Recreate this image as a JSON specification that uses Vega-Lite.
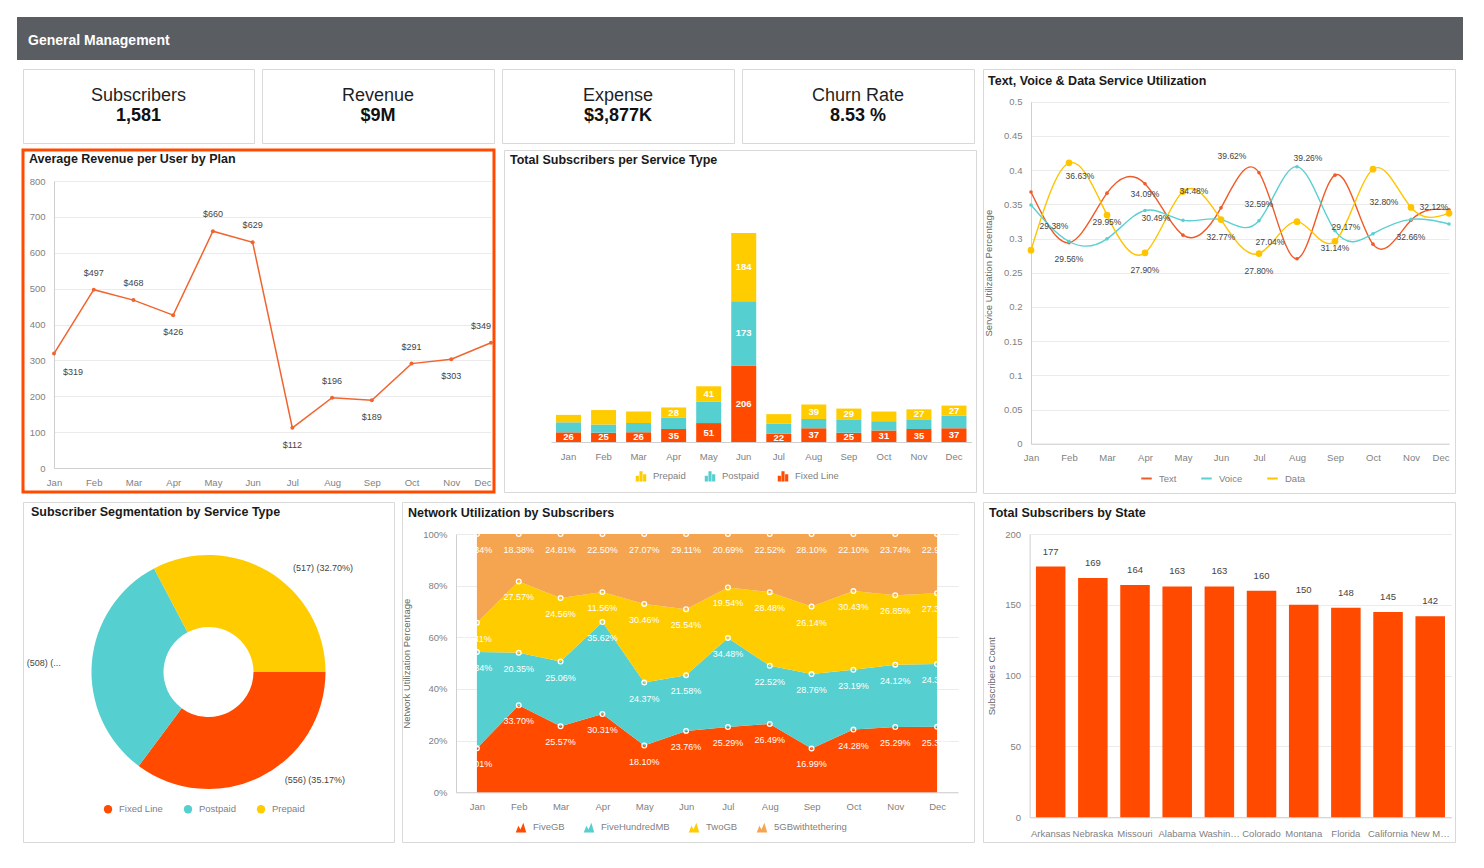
{
  "$schema": "https://vega.github.io/schema/vega-lite/v6.json",
  "padding": {"left": 17, "top": 17, "right": 0, "bottom": 0},
  "background": "white",
  "spacing": 8,
  "resolve": {"scale": {"color": "independent", "size": "independent"}, "legend": {"color": "independent", "size": "independent"}},
  "datasets": {
    "planOrder": [
      {"plan": "FiveGB", "rank": 1},
      {"plan": "FiveHundredMB", "rank": 2},
      {"plan": "TwoGB", "rank": 3},
      {"plan": "5GBwithtethering", "rank": 4}
    ]
  },
  "config": {
    "font": "Liberation Sans",
    "view": {"stroke": "#d9d9d9", "strokeWidth": 1, "fill": "white"},
    "title": {"anchor": "start", "frame": "group", "fontSize": 12.5, "fontWeight": "bold", "color": "#1a1a1a", "font": "Liberation Sans", "dx": 6},
    "axis": {"ticks": false, "domainColor": "#cfcfcf", "gridColor": "#ebebeb", "labelColor": "#7f7f7f", "labelFontSize": 9.5, "labelPadding": 9, "titleFontSize": 9.5, "titleFontWeight": "normal", "titleColor": "#666666", "labelFont": "Liberation Sans", "titleFont": "Liberation Sans"},
    "axisX": {"grid": false, "labelAngle": 0},
    "axisY": {"grid": true},
    "legend": {"orient": "none", "direction": "horizontal", "labelFontSize": 9.5, "labelColor": "#7f7f7f", "labelFont": "Liberation Sans", "columnPadding": 18, "labelOffset": 6},
    "text": {"font": "Liberation Sans"}
  },
  "vconcat": [
    {
      "width": 1446, "height": 43,
      "view": {"fill": "#5a5d62", "stroke": null},
      "title": {"text": "General Management", "color": "white", "fontSize": 14, "offset": -31, "dx": 11},
      "data": {"values": [{"t": ""}]},
      "mark": {"type": "text"},
      "encoding": {"text": {"field": "t"}}
    },
    {
      "spacing": 3,
      "resolve": {"scale": {"color": "independent", "size": "independent"}, "legend": {"color": "independent", "size": "independent"}},
      "hconcat": [
        {
          "width": 1, "height": 10,
          "view": {"fill": null, "stroke": null},
          "data": {"values": [{"t": ""}]},
          "mark": {"type": "text"},
          "encoding": {"text": {"field": "t"}}
        },
        {
          "spacing": 7,
          "resolve": {"scale": {"color": "independent", "size": "independent"}, "legend": {"color": "independent", "size": "independent"}},
          "vconcat": [
            {
              "spacing": 5,
              "resolve": {"scale": {"color": "independent", "size": "independent"}, "legend": {"color": "independent", "size": "independent"}},
              "hconcat": [
                {
                  "spacing": 4,
                  "resolve": {"scale": {"color": "independent"}, "legend": {"color": "independent"}},
                  "vconcat": [
                    {
                      "spacing": 8,
                      "bounds": "flush",
                      "hconcat": [
                        {
                          "width": 231, "height": 74,
                          "view": {"stroke": "#d9d9d9", "fill": "white"},
                          "data": {"values": [{"kpi": "Subscribers", "value": "1,581"}]},
                          "layer": [
                            {"mark": {"type": "text", "dy": -10, "fontSize": 18, "color": "#1f1f1f"}, "encoding": {"text": {"field": "kpi"}}},
                            {"mark": {"type": "text", "dy": 10, "fontSize": 18, "fontWeight": "bold", "color": "#111111"}, "encoding": {"text": {"field": "value"}}}
                          ]
                        },
                        {
                          "width": 232, "height": 74,
                          "view": {"stroke": "#d9d9d9", "fill": "white"},
                          "data": {"values": [{"kpi": "Revenue", "value": "$9M"}]},
                          "layer": [
                            {"mark": {"type": "text", "dy": -10, "fontSize": 18, "color": "#1f1f1f"}, "encoding": {"text": {"field": "kpi"}}},
                            {"mark": {"type": "text", "dy": 10, "fontSize": 18, "fontWeight": "bold", "color": "#111111"}, "encoding": {"text": {"field": "value"}}}
                          ]
                        },
                        {
                          "width": 232, "height": 74,
                          "view": {"stroke": "#d9d9d9", "fill": "white"},
                          "data": {"values": [{"kpi": "Expense", "value": "$3,877K"}]},
                          "layer": [
                            {"mark": {"type": "text", "dy": -10, "fontSize": 18, "color": "#1f1f1f"}, "encoding": {"text": {"field": "kpi"}}},
                            {"mark": {"type": "text", "dy": 10, "fontSize": 18, "fontWeight": "bold", "color": "#111111"}, "encoding": {"text": {"field": "value"}}}
                          ]
                        },
                        {
                          "width": 232, "height": 74,
                          "view": {"stroke": "#d9d9d9", "fill": "white"},
                          "data": {"values": [{"kpi": "Churn Rate", "value": "8.53 %"}]},
                          "layer": [
                            {"mark": {"type": "text", "dy": -10, "fontSize": 18, "color": "#1f1f1f"}, "encoding": {"text": {"field": "kpi"}}},
                            {"mark": {"type": "text", "dy": 10, "fontSize": 18, "fontWeight": "bold", "color": "#111111"}, "encoding": {"text": {"field": "value"}}}
                          ]
                        }
                      ]
                    },
                    {
                      "spacing": 10,
                      "bounds": "flush",
                      "resolve": {"scale": {"color": "independent"}, "legend": {"color": "independent"}},
                      "hconcat": [
                        {
                          "width": 471, "height": 342,
                          "view": {"stroke": "#FF4A00", "strokeWidth": 3},
                          "title": {"text": "Average Revenue per User by Plan", "offset": -15.75},
                          "data": {"values": [
                            {"month": "Jan", "arpu": 319}, {"month": "Feb", "arpu": 497}, {"month": "Mar", "arpu": 468},
                            {"month": "Apr", "arpu": 426}, {"month": "May", "arpu": 660}, {"month": "Jun", "arpu": 629},
                            {"month": "Jul", "arpu": 112}, {"month": "Aug", "arpu": 196}, {"month": "Sep", "arpu": 189},
                            {"month": "Oct", "arpu": 291}, {"month": "Nov", "arpu": 303}, {"month": "Dec", "arpu": 349}
                          ]},
                          "encoding": {
                            "x": {"field": "month", "type": "ordinal", "scale": {"type": "point", "domain": ["Jan","Feb","Mar","Apr","May","Jun","Jul","Aug","Sep","Oct","Nov","Dec"], "range": [31, 468], "padding": 0}, "axis": {"offset": -24, "title": null, "labelAlign": {"condition": {"test": "datum.value == 'Dec'", "value": "right"}, "value": "center"}}},
                            "y": {"field": "arpu", "type": "quantitative", "scale": {"domain": [0, 800], "range": [318, 31], "nice": false}, "axis": {"offset": -31, "tickCount": 8, "title": null}}
                          },
                          "layer": [
                            {"mark": {"type": "line", "color": "#F1642F", "strokeWidth": 1.5}},
                            {"mark": {"type": "point", "filled": true, "color": "#F1642F", "size": 16, "opacity": 1}},
                            {"transform": [{"filter": {"field": "month", "oneOf": ["Feb", "Mar", "May", "Jun", "Aug", "Oct"]}}], "mark": {"type": "text", "dy": -17, "fontSize": 9, "color": "#444444"}, "encoding": {"text": {"field": "arpu", "format": "$.0f"}}},
                            {"transform": [{"filter": {"field": "month", "oneOf": ["Apr", "Jul", "Sep", "Nov"]}}], "mark": {"type": "text", "dy": 17, "fontSize": 9, "color": "#444444"}, "encoding": {"text": {"field": "arpu", "format": "$.0f"}}},
                            {"transform": [{"filter": {"field": "month", "equal": "Jan"}}], "mark": {"type": "text", "dy": 18, "dx": 9, "align": "left", "fontSize": 9, "color": "#444444"}, "encoding": {"text": {"field": "arpu", "format": "$.0f"}}},
                            {"transform": [{"filter": {"field": "month", "equal": "Dec"}}], "mark": {"type": "text", "dy": -17, "align": "right", "fontSize": 9, "color": "#444444"}, "encoding": {"text": {"field": "arpu", "format": "$.0f"}}}
                          ]
                        },
                        {
                          "width": 472, "height": 342,
                          "title": {"text": "Total Subscribers per Service Type", "offset": -16.5},
                          "data": {"values": [
                            {"month": "Jan", "type": "Fixed Line", "subs": 26}, {"month": "Jan", "type": "Postpaid", "subs": 27}, {"month": "Jan", "type": "Prepaid", "subs": 20},
                            {"month": "Feb", "type": "Fixed Line", "subs": 25}, {"month": "Feb", "type": "Postpaid", "subs": 22}, {"month": "Feb", "type": "Prepaid", "subs": 39},
                            {"month": "Mar", "type": "Fixed Line", "subs": 26}, {"month": "Mar", "type": "Postpaid", "subs": 25}, {"month": "Mar", "type": "Prepaid", "subs": 31},
                            {"month": "Apr", "type": "Fixed Line", "subs": 35}, {"month": "Apr", "type": "Postpaid", "subs": 30}, {"month": "Apr", "type": "Prepaid", "subs": 28},
                            {"month": "May", "type": "Fixed Line", "subs": 51}, {"month": "May", "type": "Postpaid", "subs": 58}, {"month": "May", "type": "Prepaid", "subs": 41},
                            {"month": "Jun", "type": "Fixed Line", "subs": 206}, {"month": "Jun", "type": "Postpaid", "subs": 173}, {"month": "Jun", "type": "Prepaid", "subs": 184},
                            {"month": "Jul", "type": "Fixed Line", "subs": 22}, {"month": "Jul", "type": "Postpaid", "subs": 27}, {"month": "Jul", "type": "Prepaid", "subs": 26},
                            {"month": "Aug", "type": "Fixed Line", "subs": 37}, {"month": "Aug", "type": "Postpaid", "subs": 25}, {"month": "Aug", "type": "Prepaid", "subs": 39},
                            {"month": "Sep", "type": "Fixed Line", "subs": 25}, {"month": "Sep", "type": "Postpaid", "subs": 36}, {"month": "Sep", "type": "Prepaid", "subs": 29},
                            {"month": "Oct", "type": "Fixed Line", "subs": 31}, {"month": "Oct", "type": "Postpaid", "subs": 25}, {"month": "Oct", "type": "Prepaid", "subs": 26},
                            {"month": "Nov", "type": "Fixed Line", "subs": 35}, {"month": "Nov", "type": "Postpaid", "subs": 26}, {"month": "Nov", "type": "Prepaid", "subs": 27},
                            {"month": "Dec", "type": "Fixed Line", "subs": 37}, {"month": "Dec", "type": "Postpaid", "subs": 34}, {"month": "Dec", "type": "Prepaid", "subs": 27}
                          ]},
                          "encoding": {
                            "x": {"field": "month", "type": "nominal", "scale": {"domain": ["Jan","Feb","Mar","Apr","May","Jun","Jul","Aug","Sep","Oct","Nov","Dec"], "range": [47, 467.5], "paddingInner": 0.287, "paddingOuter": 0.1435}, "axis": {"offset": -50, "title": null}}
                          },
                          "layer": [
                            {
                              "mark": {"type": "bar"},
                              "encoding": {
                                "y": {"field": "subs", "type": "quantitative", "stack": "zero", "scale": {"domain": [0, 700], "range": [292, 32], "nice": false}, "axis": {"offset": -47, "tickCount": 7, "title": "Subscribers Count", "titlePadding": 8}},
                                "color": {"field": "type", "type": "nominal", "scale": {"domain": ["Prepaid", "Postpaid", "Fixed Line"], "range": ["#FFCC00", "#55CFCF", "#FF4A00"]}, "legend": {"title": null, "legendX": 131, "legendY": 320, "symbolType": "M-1,1L-1,-0.1L-0.4,-0.1L-0.4,1Z M-0.3,1L-0.3,-1L0.3,-1L0.3,1Z M0.4,1L0.4,-0.4L1,-0.4L1,1Z", "symbolSize": 110}},
                                "order": {"field": "type", "type": "ordinal", "sort": "ascending"}
                              }
                            },
                            {
                              "transform": [
                                {"stack": "subs", "groupby": ["month"], "sort": [{"field": "type", "order": "ascending"}], "as": ["s0", "s1"]},
                                {"fold": ["s0", "s1"], "as": ["edge", "pos"]},
                                {"aggregate": [{"op": "mean", "field": "pos", "as": "mid"}, {"op": "max", "field": "subs", "as": "subs"}], "groupby": ["month", "type"]},
                                {"filter": "datum.type == 'Fixed Line' || (datum.type == 'Postpaid' && datum.month == 'Jun') || (datum.type == 'Prepaid' && indexof(['Apr','May','Jun','Aug','Sep','Nov','Dec'], datum.month) >= 0)"}
                              ],
                              "mark": {"type": "text", "color": "white", "fontSize": 9.5, "fontWeight": "bold"},
                              "encoding": {
                                "y": {"field": "mid", "type": "quantitative", "stack": null, "axis": null},
                                "text": {"field": "subs"}
                              }
                            }
                          ]
                        }
                      ]
                    }
                  ]
                },
                {
                  "width": 472, "height": 424,
                  "title": {"text": "Text, Voice & Data Service Utilization", "offset": -18.75, "dx": 5},
                  "data": {"values": [
                    {"month": "Jan", "series": "Text", "val": 0.368}, {"month": "Feb", "series": "Text", "val": 0.2938}, {"month": "Mar", "series": "Text", "val": 0.3663},
                    {"month": "Apr", "series": "Text", "val": 0.380}, {"month": "May", "series": "Text", "val": 0.3049}, {"month": "Jun", "series": "Text", "val": 0.3448},
                    {"month": "Jul", "series": "Text", "val": 0.3962}, {"month": "Aug", "series": "Text", "val": 0.2704}, {"month": "Sep", "series": "Text", "val": 0.3926},
                    {"month": "Oct", "series": "Text", "val": 0.2917}, {"month": "Nov", "series": "Text", "val": 0.3266}, {"month": "Dec", "series": "Text", "val": 0.342},
                    {"month": "Jan", "series": "Voice", "val": 0.349}, {"month": "Feb", "series": "Voice", "val": 0.2956}, {"month": "Mar", "series": "Voice", "val": 0.2995},
                    {"month": "Apr", "series": "Voice", "val": 0.3409}, {"month": "May", "series": "Voice", "val": 0.3265}, {"month": "Jun", "series": "Voice", "val": 0.3275},
                    {"month": "Jul", "series": "Voice", "val": 0.3259}, {"month": "Aug", "series": "Voice", "val": 0.405}, {"month": "Sep", "series": "Voice", "val": 0.3114},
                    {"month": "Oct", "series": "Voice", "val": 0.307}, {"month": "Nov", "series": "Voice", "val": 0.328}, {"month": "Dec", "series": "Voice", "val": 0.3212},
                    {"month": "Jan", "series": "Data", "val": 0.283}, {"month": "Feb", "series": "Data", "val": 0.4106}, {"month": "Mar", "series": "Data", "val": 0.3342},
                    {"month": "Apr", "series": "Data", "val": 0.279}, {"month": "May", "series": "Data", "val": 0.3686}, {"month": "Jun", "series": "Data", "val": 0.3277},
                    {"month": "Jul", "series": "Data", "val": 0.278}, {"month": "Aug", "series": "Data", "val": 0.3246}, {"month": "Sep", "series": "Data", "val": 0.296},
                    {"month": "Oct", "series": "Data", "val": 0.4013}, {"month": "Nov", "series": "Data", "val": 0.3454}, {"month": "Dec", "series": "Data", "val": 0.3368}
                  ]},
                  "encoding": {
                    "x": {"field": "month", "type": "ordinal", "scale": {"type": "point", "domain": ["Jan","Feb","Mar","Apr","May","Jun","Jul","Aug","Sep","Oct","Nov","Dec"], "range": [48, 466], "padding": 0}, "axis": {"offset": -49.3, "title": null, "labelAlign": {"condition": {"test": "datum.value == 'Dec'", "value": "right"}, "value": "center"}}},
                    "y": {"field": "val", "type": "quantitative", "scale": {"domain": [0, 0.5], "range": [374.7, 32.7], "nice": false}, "axis": {"offset": -48, "tickCount": 10, "format": "~g", "title": "Service Utilization Percentage", "titlePadding": 10}}
                  },
                  "layer": [
                    {
                      "mark": {"type": "line", "interpolate": "natural", "strokeWidth": 1.4},
                      "encoding": {"color": {"field": "series", "type": "nominal", "scale": {"domain": ["Text", "Voice", "Data"], "range": ["#F05A28", "#5CCFD0", "#FFC400"]}, "legend": {"title": null, "legendX": 157, "legendY": 403, "symbolType": "stroke", "symbolSize": 110, "symbolStrokeWidth": 2, "columnPadding": 20}}}
                    },
                    {
                      "transform": [{"filter": "datum.series != 'Data'"}],
                      "mark": {"type": "point", "filled": true, "opacity": 1, "size": 13},
                      "encoding": {"color": {"field": "series", "type": "nominal", "legend": null}}
                    },
                    {
                      "transform": [{"filter": "datum.series == 'Data'"}],
                      "mark": {"type": "point", "filled": true, "opacity": 1, "size": 45},
                      "encoding": {"color": {"field": "series", "type": "nominal", "legend": null}}
                    },
                    {
                      "transform": [{"filter": "indexof(['Text-Mar','Text-May','Text-Jun','Text-Jul','Text-Aug','Text-Sep','Text-Oct','Voice-Nov'], datum.series + '-' + datum.month) >= 0"}],
                      "mark": {"type": "text", "dy": -17, "dx": -27, "fontSize": 8.5, "color": "#444444"},
                      "encoding": {"text": {"field": "val", "format": ".2%"}}
                    },
                    {
                      "transform": [{"filter": "indexof(['Text-Feb','Voice-Dec'], datum.series + '-' + datum.month) >= 0"}],
                      "mark": {"type": "text", "dy": -17, "dx": -15, "fontSize": 8.5, "color": "#444444"},
                      "encoding": {"text": {"field": "val", "format": ".2%"}}
                    },
                    {
                      "transform": [{"filter": "indexof(['Voice-Mar','Voice-Apr','Voice-Jul'], datum.series + '-' + datum.month) >= 0"}],
                      "mark": {"type": "text", "dy": -17, "fontSize": 8.5, "color": "#444444"},
                      "encoding": {"text": {"field": "val", "format": ".2%"}}
                    },
                    {
                      "transform": [{"filter": "indexof(['Voice-Feb','Data-Apr','Data-Jun','Data-Jul','Voice-Sep','Text-Nov'], datum.series + '-' + datum.month) >= 0"}],
                      "mark": {"type": "text", "dy": 17, "fontSize": 8.5, "color": "#444444"},
                      "encoding": {"text": {"field": "val", "format": ".2%"}}
                    }
                  ]
                }
              ]
            },
            {
              "spacing": 7,
              "resolve": {"scale": {"color": "independent"}, "legend": {"color": "independent"}},
              "hconcat": [
                {
                  "spacing": 8,
                  "bounds": "flush",
                  "resolve": {"scale": {"color": "independent"}, "legend": {"color": "independent"}},
                  "hconcat": [
                    {
                      "width": 371, "height": 340,
                      "view": {"stroke": "#d9d9d9", "fill": "white"},
                      "title": {"text": "Subscriber Segmentation by Service Type", "offset": -16.75, "dx": 8},
                      "data": {"values": [
                        {"type": "Fixed Line", "subs": 556, "label": "(556) (35.17%)"},
                        {"type": "Postpaid", "subs": 508, "label": "(508) (32.13%)"},
                        {"type": "Prepaid", "subs": 517, "label": "(517) (32.70%)"}
                      ]},
                      "encoding": {
                        "theta": {"field": "subs", "type": "quantitative", "stack": true, "scale": {"range": [1.5708, 7.854]}},
                        "order": {"field": "type", "type": "ordinal", "sort": "ascending"}
                      },
                      "layer": [
                        {
                          "mark": {"type": "arc", "outerRadius": 117, "innerRadius": 45},
                          "encoding": {"color": {"field": "type", "type": "nominal", "scale": {"domain": ["Fixed Line", "Postpaid", "Prepaid"], "range": ["#FF4A00", "#55CFCF", "#FFCC00"]}, "legend": {"title": null, "legendX": 80, "legendY": 302, "symbolType": "circle", "symbolSize": 70, "columnPadding": 20}}}
                        },
                        {
                          "mark": {"type": "text", "radius": 121, "align": "left", "dx": 22, "fontSize": 9, "color": "#444444"},
                          "encoding": {"text": {"field": "label"}, "detail": {"field": "type"}, "opacity": {"condition": {"test": "datum.type != 'Postpaid'", "value": 1}, "value": 0}}
                        },
                        {
                          "mark": {"type": "text", "radius": 121, "align": "right", "dx": -27, "fontSize": 9, "color": "#444444", "limit": 39, "ellipsis": "..."},
                          "encoding": {"text": {"field": "label"}, "detail": {"field": "type"}, "opacity": {"condition": {"test": "datum.type == 'Postpaid'", "value": 1}, "value": 0}}
                        }
                      ]
                    },
                    {
                      "width": 572, "height": 340,
                      "title": {"text": "Network Utilization by Subscribers", "offset": -17.75},
                      "data": {"values": [
                        {"month": "Jan", "plan": "FiveGB", "share": 0.1701}, {"month": "Jan", "plan": "FiveHundredMB", "share": 0.3734}, {"month": "Jan", "plan": "TwoGB", "share": 0.1131}, {"month": "Jan", "plan": "5GBwithtethering", "share": 0.3434},
                        {"month": "Feb", "plan": "FiveGB", "share": 0.3370}, {"month": "Feb", "plan": "FiveHundredMB", "share": 0.2035}, {"month": "Feb", "plan": "TwoGB", "share": 0.2757}, {"month": "Feb", "plan": "5GBwithtethering", "share": 0.1838},
                        {"month": "Mar", "plan": "FiveGB", "share": 0.2557}, {"month": "Mar", "plan": "FiveHundredMB", "share": 0.2506}, {"month": "Mar", "plan": "TwoGB", "share": 0.2456}, {"month": "Mar", "plan": "5GBwithtethering", "share": 0.2481},
                        {"month": "Apr", "plan": "FiveGB", "share": 0.3031}, {"month": "Apr", "plan": "FiveHundredMB", "share": 0.3562}, {"month": "Apr", "plan": "TwoGB", "share": 0.1156}, {"month": "Apr", "plan": "5GBwithtethering", "share": 0.2250},
                        {"month": "May", "plan": "FiveGB", "share": 0.1810}, {"month": "May", "plan": "FiveHundredMB", "share": 0.2437}, {"month": "May", "plan": "TwoGB", "share": 0.3046}, {"month": "May", "plan": "5GBwithtethering", "share": 0.2707},
                        {"month": "Jun", "plan": "FiveGB", "share": 0.2376}, {"month": "Jun", "plan": "FiveHundredMB", "share": 0.2158}, {"month": "Jun", "plan": "TwoGB", "share": 0.2554}, {"month": "Jun", "plan": "5GBwithtethering", "share": 0.2911},
                        {"month": "Jul", "plan": "FiveGB", "share": 0.2529}, {"month": "Jul", "plan": "FiveHundredMB", "share": 0.3448}, {"month": "Jul", "plan": "TwoGB", "share": 0.1954}, {"month": "Jul", "plan": "5GBwithtethering", "share": 0.2069},
                        {"month": "Aug", "plan": "FiveGB", "share": 0.2649}, {"month": "Aug", "plan": "FiveHundredMB", "share": 0.2252}, {"month": "Aug", "plan": "TwoGB", "share": 0.2848}, {"month": "Aug", "plan": "5GBwithtethering", "share": 0.2252},
                        {"month": "Sep", "plan": "FiveGB", "share": 0.1699}, {"month": "Sep", "plan": "FiveHundredMB", "share": 0.2876}, {"month": "Sep", "plan": "TwoGB", "share": 0.2614}, {"month": "Sep", "plan": "5GBwithtethering", "share": 0.2810},
                        {"month": "Oct", "plan": "FiveGB", "share": 0.2428}, {"month": "Oct", "plan": "FiveHundredMB", "share": 0.2319}, {"month": "Oct", "plan": "TwoGB", "share": 0.3043}, {"month": "Oct", "plan": "5GBwithtethering", "share": 0.2210},
                        {"month": "Nov", "plan": "FiveGB", "share": 0.2529}, {"month": "Nov", "plan": "FiveHundredMB", "share": 0.2412}, {"month": "Nov", "plan": "TwoGB", "share": 0.2685}, {"month": "Nov", "plan": "5GBwithtethering", "share": 0.2374},
                        {"month": "Dec", "plan": "FiveGB", "share": 0.2534}, {"month": "Dec", "plan": "FiveHundredMB", "share": 0.2435}, {"month": "Dec", "plan": "TwoGB", "share": 0.2736}, {"month": "Dec", "plan": "5GBwithtethering", "share": 0.2295}
                      ]},
                      "transform": [{"lookup": "plan", "from": {"data": {"name": "planOrder"}, "key": "plan", "fields": ["rank"]}}],
                      "encoding": {
                        "x": {"field": "month", "type": "ordinal", "scale": {"type": "point", "domain": ["Jan","Feb","Mar","Apr","May","Jun","Jul","Aug","Sep","Oct","Nov","Dec"], "range": [54, 556], "padding": 0.5}, "axis": {"offset": -49.7, "title": null}},
                        "y": {"field": "share", "type": "quantitative", "stack": "normalize", "scale": {"range": [290.3, 32], "nice": false}, "axis": {"offset": -54, "tickCount": 5, "format": ".0%", "title": "Network Utilization Percentage", "titlePadding": 11}},
                        "order": {"field": "rank", "type": "quantitative", "sort": "ascending"}
                      },
                      "layer": [
                        {
                          "mark": {"type": "area", "opacity": 1},
                          "encoding": {"color": {"field": "plan", "type": "nominal", "scale": {"domain": ["FiveGB", "FiveHundredMB", "TwoGB", "5GBwithtethering"], "range": ["#FF4A00", "#55CFCF", "#FFCC00", "#F5A550"]}, "legend": {"title": null, "legendX": 113, "legendY": 319, "symbolType": "M-1,1L-0.5,-0.3L-0.1,0.4L0.45,-0.9L1,1Z", "symbolSize": 110}}}
                        },
                        {
                          "mark": {"type": "point", "filled": false, "color": "white", "strokeWidth": 1.3, "size": 22, "opacity": 1},
                          "encoding": {"detail": {"field": "plan"}}
                        },
                        {
                          "mark": {"type": "text", "color": "white", "dy": 16, "fontSize": 9},
                          "encoding": {"detail": {"field": "plan"}, "text": {"field": "share", "format": ".2%"}}
                        }
                      ]
                    }
                  ]
                },
                {
                  "width": 472, "height": 340,
                  "title": {"text": "Total Subscribers by State", "offset": -17.75},
                  "data": {"values": [
                    {"state": "Arkansas", "subs": 177}, {"state": "Nebraska", "subs": 169}, {"state": "Missouri", "subs": 164},
                    {"state": "Alabama", "subs": 163}, {"state": "Washington", "subs": 163}, {"state": "Colorado", "subs": 160},
                    {"state": "Montana", "subs": 150}, {"state": "Florida", "subs": 148}, {"state": "California", "subs": 145},
                    {"state": "New Mexico", "subs": 142}
                  ]},
                  "encoding": {
                    "x": {"field": "state", "type": "nominal", "scale": {"domain": ["Arkansas","Nebraska","Missouri","Alabama","Washington","Colorado","Montana","Florida","California","New Mexico"], "range": [46.6, 468.3], "paddingInner": 0.3, "paddingOuter": 0.15}, "axis": {"offset": -24.7, "title": null, "labelLimit": 43, "labelPadding": 11}},
                    "y": {"field": "subs", "type": "quantitative", "scale": {"domain": [0, 200], "range": [315.3, 32], "nice": false}, "axis": {"offset": -46.6, "tickCount": 4, "title": "Subscribers Count", "titlePadding": 8}}
                  },
                  "layer": [
                    {"mark": {"type": "bar", "color": "#FF4A00"}},
                    {"mark": {"type": "text", "baseline": "bottom", "dy": -10, "fontSize": 9.5, "color": "#444444"}, "encoding": {"text": {"field": "subs"}}}
                  ]
                }
              ]
            }
          ]
        }
      ]
    }
  ]
}
